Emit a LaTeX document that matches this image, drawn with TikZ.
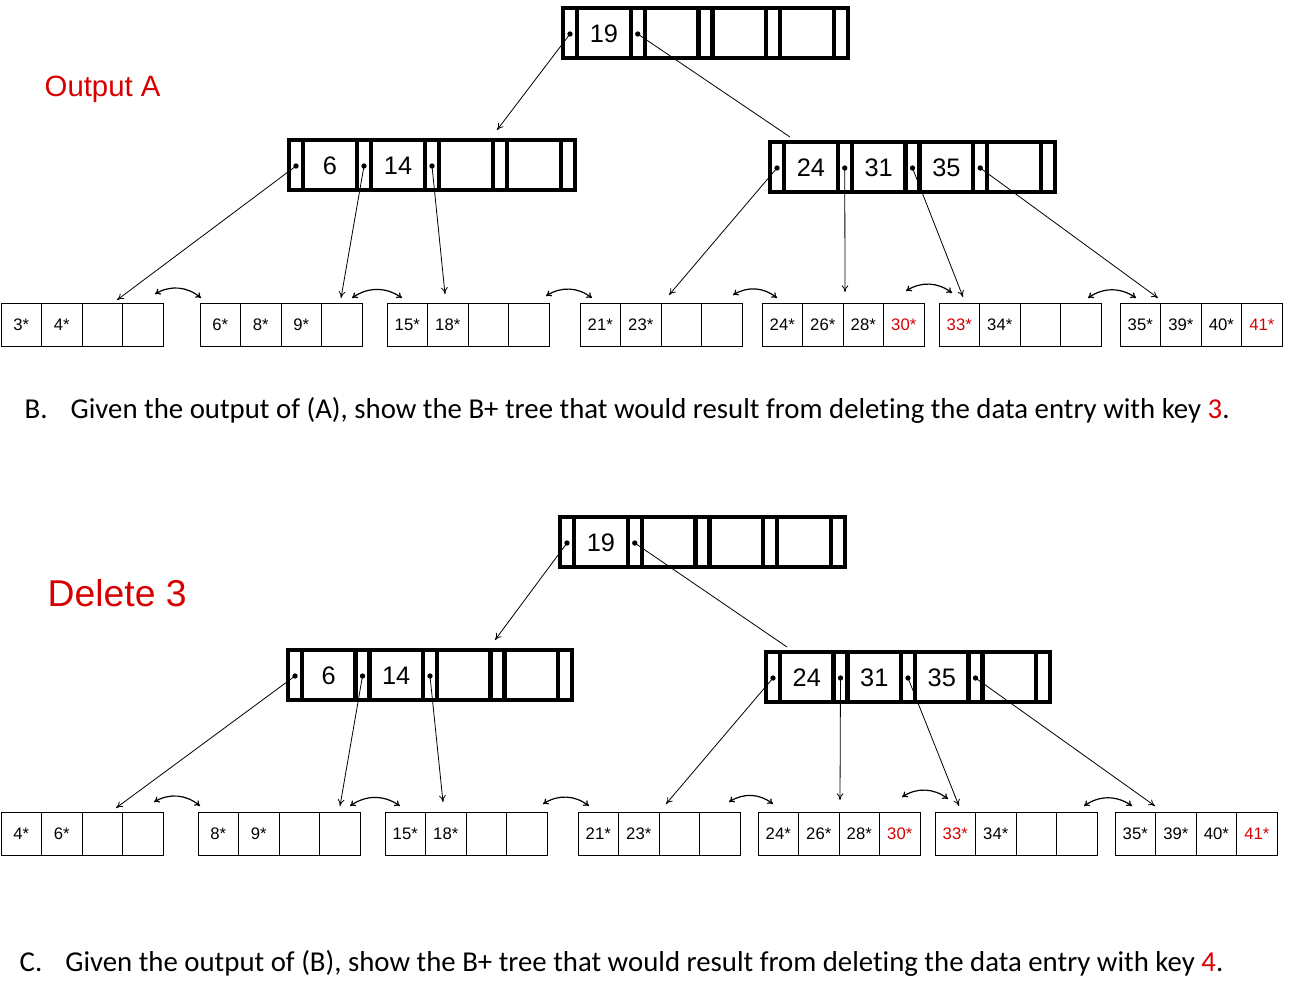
\documentclass[tikz,border=0pt]{standalone}
\usepackage{fontspec}
\setmainfont{Liberation Sans}
\newfontfamily\qfont[Ligatures=NoCommon]{Carlito}
\usetikzlibrary{arrows.meta}
\definecolor{myred}{RGB}{214,0,0}
\tikzset{
  ptr/.style={-{To[length=5pt,width=5pt]},line width=0.6pt},
  sib/.style={{To[length=4pt,width=5pt]}-{To[length=4pt,width=5pt]},line width=0.9pt,bend left=35},
  plain/.style={line width=0.6pt},
  thick box/.style={line width=3.2pt},
  leafcell/.style={line width=0.6pt},
  keytxt/.style={font=\fontsize{19}{20}\selectfont},
  leaftxt/.style={font=\fontsize{12.5}{13}\selectfont},
  qtxt/.style={font=\qfont\fontsize{21.6}{23}\selectfont,anchor=west},
}
\newcommand\inode[6]{% name,x,y,W,keys,last used pointer index
  \pgfmathsetmacro\kw{(#4-70)/4}
  \draw[thick box] (#2,#3) rectangle ++(#4,50);
  \foreach \k [count=\i from 0] in {#5}{
    \pgfmathsetmacro\kx{#2+14*(\i+1)+\kw*\i}
    \draw[thick box] (\kx,#3) rectangle ++(\kw,50);
    \node[keytxt] (#1-k\i) at (\kx+\kw/2,#3+26) {\k};
  }
  \foreach \i in {0,...,#6}{
    \pgfmathsetmacro\px{#2+7+(14+\kw)*\i}
    \coordinate (#1-p\i) at (\px,#3+26);
    \fill (#1-p\i) circle (2pt);
  }
}
\newcommand\leaf[4]{% name,x,y,entries
  \foreach \e [count=\i from 0] in {#4}{
    \draw[leafcell] (#2+40.5*\i,#3) rectangle ++(40.5,43);
    \node[leaftxt] (#1-c\i) at (#2+40.5*\i+20.25,#3+22) {\e};
  }
}
\begin{document}
\begin{tikzpicture}[x=0.75pt,y=-0.75pt]
\useasboundingbox (0,0) rectangle (1314,1000);
% ---- top tree
\node[font=\fontsize{22}{24}\selectfont,text=myred,anchor=west] (outA) at (40,89) {Output A};
\inode{r}{563}{8}{285}{19,,,}{1}
\inode{a}{289}{140}{286}{6,14,,}{2}
\inode{b}{770}{142}{285}{24,31,35,}{3}
\leaf{t1}{1}{303}{3*,4*,,}
\leaf{t2}{200}{303}{6*,8*,9*,}
\leaf{t3}{387}{303}{15*,18*,,}
\leaf{t4}{580}{303}{21*,23*,,}
\leaf{t5}{762}{303}{24*,26*,28*,\textcolor{myred}{30*}}
\leaf{t6}{939}{303}{\textcolor{myred}{33*},34*,,}
\leaf{t7}{1120}{303}{35*,39*,40*,\textcolor{myred}{41*}}
\coordinate (ta) at (497,130); \coordinate (tb) at (790,137);
\draw[ptr] (r-p0) -- (ta);
\draw[plain] (r-p1) -- (tb);
\coordinate (x1) at (117,300); \coordinate (x2) at (341,298); \coordinate (x3) at (445,294);
\coordinate (x4) at (669,295); \coordinate (x5) at (845,292); \coordinate (x6) at (963,297); \coordinate (x7) at (1158,298);
\draw[ptr] (a-p0) -- (x1); \draw[ptr] (a-p1) -- (x2); \draw[ptr] (a-p2) -- (x3);
\draw[ptr] (b-p0) -- (x4); \draw[ptr] (b-p1) -- (x5); \draw[ptr] (b-p2) -- (x6); \draw[ptr] (b-p3) -- (x7);
\coordinate (s1a) at (155,294); \coordinate (s1b) at (201,298);
\coordinate (s2a) at (352,298); \coordinate (s2b) at (402,298);
\coordinate (s3a) at (546,296); \coordinate (s3b) at (592,298);
\coordinate (s4a) at (733,295); \coordinate (s4b) at (777,298);
\coordinate (s5a) at (906,291); \coordinate (s5b) at (952,293);
\coordinate (s6a) at (1088,298); \coordinate (s6b) at (1136,298);
\foreach \s in {1,...,6}{\draw[sib] (s\s a) to (s\s b);}
\node[qtxt] (qB) at (20,410) {B.\hspace{0.8em}Given the output of (A), show the B+ tree that would result from deleting the data entry with key \textcolor{myred}{3}.};
% ---- bottom tree
\node[font=\fontsize{28}{30}\selectfont,text=myred,anchor=west] (del) at (43,593) {Delete 3};
\inode{R}{560}{517}{285}{19,,,}{1}
\inode{A}{288}{650}{284}{6,14,,}{2}
\inode{B}{766}{652}{284}{24,31,35,}{3}
\leaf{u1}{1}{812}{4*,6*,,}
\leaf{u2}{198}{812}{8*,9*,,}
\leaf{u3}{385}{812}{15*,18*,,}
\leaf{u4}{578}{812}{21*,23*,,}
\leaf{u5}{758}{812}{24*,26*,28*,\textcolor{myred}{30*}}
\leaf{u6}{935}{812}{\textcolor{myred}{33*},34*,,}
\leaf{u7}{1115}{812}{35*,39*,40*,\textcolor{myred}{41*}}
\coordinate (Ta) at (495,640); \coordinate (Tb) at (787,647);
\draw[ptr] (R-p0) -- (Ta);
\draw[plain] (R-p1) -- (Tb);
\coordinate (y1) at (116,808); \coordinate (y2) at (340,806); \coordinate (y3) at (443,802);
\coordinate (y4) at (666,804); \coordinate (y5) at (840,800); \coordinate (y6) at (959,806); \coordinate (y7) at (1155,806);
\draw[ptr] (A-p0) -- (y1); \draw[ptr] (A-p1) -- (y2); \draw[ptr] (A-p2) -- (y3);
\draw[ptr] (B-p0) -- (y4); \draw[ptr] (B-p1) -- (y5); \draw[ptr] (B-p2) -- (y6); \draw[ptr] (B-p3) -- (y7);
\coordinate (v1a) at (154,802); \coordinate (v1b) at (200,806);
\coordinate (v2a) at (350,806); \coordinate (v2b) at (400,806);
\coordinate (v3a) at (543,804); \coordinate (v3b) at (589,806);
\coordinate (v4a) at (729,802); \coordinate (v4b) at (773,804);
\coordinate (v5a) at (902,797); \coordinate (v5b) at (948,799);
\coordinate (v6a) at (1084,806); \coordinate (v6b) at (1132,806);
\foreach \s in {1,...,6}{\draw[sib] (v\s a) to (v\s b);}
\node[qtxt] (qC) at (15,963) {C.\hspace{0.8em}Given the output of (B), show the B+ tree that would result from deleting the data entry with key \textcolor{myred}{4}.};
\end{tikzpicture}
\end{document}
